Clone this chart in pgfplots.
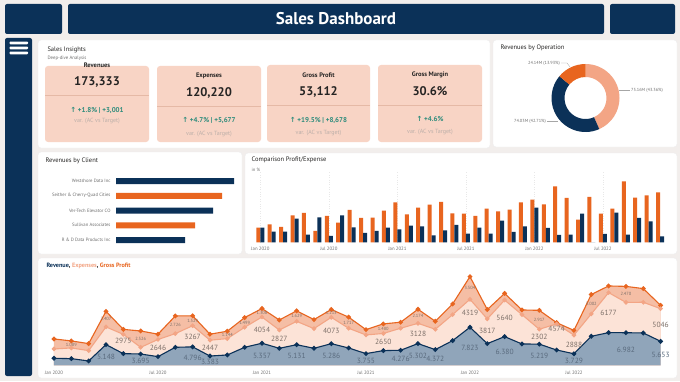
\documentclass[border=0pt]{standalone}
\usepackage{pgfplots}
\pgfplotsset{compat=1.18}
\usepackage{pgfplotstable}
\usepackage{fontspec}
\setmainfont{PT Sans}
\newfontfamily\dejavu{DejaVu Sans}
\newcommand\fs[1]{\fontsize{#1}{#1}\selectfont}
\newcommand\dlabel[5]{\node[font=\fs{#4}, text=#5, inner sep=0pt] at (axis cs:#1,#2) {#3};}
\definecolor{bg}{HTML}{F2EEEC}
\definecolor{navy}{HTML}{0B3158}
\definecolor{org}{HTML}{E8651F}
\definecolor{salm}{HTML}{F3A585}
\definecolor{peach}{HTML}{F8D4C5}
\definecolor{cardline}{HTML}{E5B9A6}
\definecolor{kgreen}{HTML}{2E8C7C}
\definecolor{kgrey}{HTML}{BCAFA9}
\definecolor{txt}{HTML}{252423}
\definecolor{lbl}{HTML}{6E6E6E}
\definecolor{navyfill}{HTML}{90A5BA}
\definecolor{midfill}{HTML}{FCE3D7}
\definecolor{topfill}{HTML}{F5BEA5}
\definecolor{navylbl}{HTML}{5A6B7E}
\definecolor{midlbl}{HTML}{7D7069}

% Revenue (N), Expenses band (E), Gross Profit band (G), monthly Jan 2020 - Dec 2022
\pgfplotstableread{
i N E G
0 3032 1442 1545
1 2980 1648 1089
2 2620 1597 1082
3 5148 2730 2407
4 3752 2975 772
5 3695 1030 2526
6 3289 2646 824
7 4731 2112 2726
8 4796 3267 1529
9 3383 2447 927
10 3546 2524 1144
11 4731 3090 1499
12 5357 4054 1308
13 4577 2827 1545
14 5131 3605 1629
15 4577 3039 1391
16 5286 4073 1213
17 4628 3039 1717
18 3755 2884 824
19 4216 2650 1480
20 4276 3399 927
21 5302 3128 2174
22 4372 3142 1236
23 5761 4017 1648
24 7823 4319 3504
25 5298 3817 1442
26 6380 5640 1030
27 5246 4532 721
28 5219 2302 2917
29 4314 4020 200
30 3729 2888 721
31 6431 3451 3002
32 6997 6177 1030
33 6982 4687 2470
34 6946 4738 2112
35 5653 5046 515
}\areadata

% Comparison Profit/Expense: O = orange, B = navy
\pgfplotstableread{
i O B
0 44 44
1 54 32
2 46 32
3 81 71
4 88 23
5 34 75
6 79 19
7 59 81
8 97 45
9 73 28
10 74 34
11 95 44
12 120 39
13 84 50
14 104 48
15 113 21
16 121 36
17 87 52
18 86 26
19 79 44
20 101 26
21 93 65
22 98 31
23 120 48
24 128 104
25 114 43
26 168 22
27 133 23
28 68 86
29 136 0
30 86 25
31 101 89
32 183 23
33 134 73
34 141 63
35 150 18
}\cmpdata

\begin{document}
\begin{tikzpicture}[x=1pt,y=1pt]
\fill[bg] (0,0) rectangle (680,381);
% header
\fill[navy, rounded corners=2pt] (5,347) rectangle (62,377);
\fill[navy, rounded corners=2pt] (68,347) rectangle (604,377);
\fill[navy, rounded corners=2pt] (610,347) rectangle (675,377);
\node[white, font=\fs{17}\bfseries] at (336,362) {Sales Dashboard};
% sidebar
\fill[navy, rounded corners=2pt] (5,5) rectangle (32,343);
\foreach \yy in {338,333,328} \fill[white, rounded corners=0.8pt] (9.5,\yy-1.3) rectangle (28,\yy+1.3);

% panels
\fill[white, rounded corners=3pt, draw=black!7, line width=0.4pt] (38,233) rectangle (490,341);
\fill[white, rounded corners=3pt, draw=black!7, line width=0.4pt] (493,234) rectangle (677,341);
\fill[white, rounded corners=3pt, draw=black!7, line width=0.4pt] (38,127) rectangle (242,229);
\fill[white, rounded corners=3pt, draw=black!7, line width=0.4pt] (245,127) rectangle (677,228);
\fill[white, rounded corners=3pt, draw=black!7, line width=0.4pt] (38,3) rectangle (677,123);

% Sales insights
\node[anchor=west, font=\fs{6.5}, text=txt] at (44,331) {Sales Insights};
\node[anchor=west, font=\fs{4.8}, text=lbl] at (44,322.5) {Deep-dive Analysis};

% card 1
\fill[peach, rounded corners=3pt] (45,239) rectangle (149,315);
\node[font=\fs{6.5}\bfseries, text=txt] at (97,316) {Revenues};
\node[font=\fs{12.5}\bfseries, text=txt] at (97,299) {173,333};
\draw[cardline, line width=0.5pt] (45,286) -- (149,286);
\node[font=\fs{7}\bfseries, text=kgreen] at (97,271) {{\dejavu\bfseries ↑} +1.8\% | +3,001};
\node[font=\fs{6}, text=kgrey] at (97,260) {var. (AC vs Target)};
% card 2
\fill[peach, rounded corners=3pt] (157,239) rectangle (261,315);
\node[font=\fs{6.5}\bfseries, text=txt] at (209,305) {Expenses};
\node[font=\fs{12.5}\bfseries, text=txt] at (209,288) {120,220};
\draw[cardline, line width=0.5pt] (157,275) -- (261,275);
\node[font=\fs{7}\bfseries, text=kgreen] at (209,261) {{\dejavu\bfseries ↑} +4.7\% | +5,677};
\node[font=\fs{6}, text=kgrey] at (209,247) {var. (AC vs Target)};
% card 3
\fill[peach, rounded corners=3pt] (267,239) rectangle (370,316);
\node[font=\fs{6.5}\bfseries, text=txt] at (318.5,306) {Gross Profit};
\node[font=\fs{12.5}\bfseries, text=txt] at (318.5,289) {53,112};
\draw[cardline, line width=0.5pt] (267,276) -- (370,276);
\node[font=\fs{7}\bfseries, text=kgreen] at (318.5,261) {{\dejavu\bfseries ↑} +19.5\% | +8,678};
\node[font=\fs{6}, text=kgrey] at (318.5,248) {var. (AC vs Target)};
% card 4
\fill[peach, rounded corners=3pt] (378,239) rectangle (482,316);
\node[font=\fs{6.5}\bfseries, text=txt] at (430,306) {Gross Margin};
\node[font=\fs{12.5}\bfseries, text=txt] at (430,290) {30.6\%};
\draw[cardline, line width=0.5pt] (378,276) -- (482,276);
\node[font=\fs{7}\bfseries, text=kgreen] at (430,262) {{\dejavu\bfseries ↑} +4.6\%};
\node[font=\fs{6}, text=kgrey] at (430,249) {var. (AC vs Target)};

% Revenues by operation (donut): 43.36 / 42.71 / 13.93 percent
\node[anchor=west, font=\fs{6.5}, text=txt] at (497,333.5) {Revenues by Operation};
\pgfmathsetmacro\aA{90-3.6*43.36}
\pgfmathsetmacro\aB{\aA-3.6*42.71}
\pgfmathsetmacro\aC{\aB-3.6*13.93}
\begin{scope}[shift={(585.5,283)}]
\fill[salm] (90:34) arc[start angle=90,end angle=\aA,radius=34] -- (\aA:21) arc[start angle=\aA,end angle=90,radius=21] -- cycle;
\fill[navy] (\aA:34) arc[start angle=\aA,end angle=\aB,radius=34] -- (\aB:21) arc[start angle=\aB,end angle=\aA,radius=21] -- cycle;
\fill[org] (\aB:34) arc[start angle=\aB,end angle=\aC,radius=34] -- (\aC:21) arc[start angle=\aC,end angle=\aB,radius=21] -- cycle;
\end{scope}
\draw[black!35, line width=0.3pt] (561,318) -- (567,318) -- (570,314);
\node[anchor=east, font=\fs{4.4}, text=lbl, inner sep=0.5pt] at (560.5,318) {24.14M (13.93\%)};
\draw[black!35, line width=0.3pt] (619,291) -- (630,291);
\node[anchor=west, font=\fs{4.4}, text=lbl, inner sep=0.5pt] at (630.5,291) {75.16M (43.36\%)};
\draw[black!35, line width=0.3pt] (547,260) -- (558,260);
\node[anchor=east, font=\fs{4.4}, text=lbl, inner sep=0.5pt] at (546.5,260) {74.03M (42.71\%)};

% Revenues by client
\node[anchor=west, font=\fs{6.5}, text=txt] at (42,220) {Revenues by Client};
\begin{axis}[at={(116pt,133.6pt)}, anchor=south west, scale only axis,
  width=120pt, height=73.75pt, xmin=0, xmax=120, ymin=-0.5, ymax=4.5,
  xbar, bar width=6pt, axis line style={draw=none}, xtick=\empty,
  ytick={0,1,2,3,4},
  yticklabels={R \& D Data Products Inc,Sullivan Associates,Ver-Tech Elevator CO,{Seither \& Cherry-Quad Cities},Westshore Data Inc},
  yticklabel style={font=\fs{4.7}, text=lbl, xshift=-2pt},
  major tick length=0pt]
\addplot[fill=navy, draw=none, bar shift=0pt] coordinates {(69,0) (97,2) (118,4)};
\addplot[fill=org, draw=none, bar shift=0pt] coordinates {(79,1) (106,3)};
\end{axis}

% Comparison profit / expense
\node[anchor=west, font=\fs{6.5}, text=txt] at (248,221) {Comparison Profit/Expense};
\node[anchor=west, font=\fs{4.6}, text=lbl] at (248,211.5) {in \%};
\begin{axis}[at={(252.3pt,138.7pt)}, anchor=south west, scale only axis,
  width=415.7pt, height=70pt, xmin=-0.7, xmax=35.7, ymin=0, ymax=210,
  ybar=0pt, bar width=4pt, axis line style={draw=none}, ytick=\empty,
  xtick={0,6,12,18,24,30},
  xticklabels={Jan 2020,Jul 2020,Jan 2021,Jul 2021,Jan 2022,Jul 2022},
  xticklabel style={font=\fs{4.8}, text=lbl, yshift=-1pt},
  xmajorgrids, grid style={dotted, line width=0.3pt, black!9},
  major tick length=0pt]
\addplot[fill=org, draw=none] table[x=i,y=O]{\cmpdata};
\addplot[fill=navy, draw=none] table[x=i,y=B]{\cmpdata};
\end{axis}

% Revenue, Expenses, Gross Profit
\node[anchor=west, font=\fs{6.2}\bfseries] at (43,115) {{\color{navy}Revenue}, {\color{salm}Expenses}, {\color{org}Gross Profit}};
\begin{axis}[at={(48.8pt,15.7pt)}, anchor=south west, scale only axis,
  width=617pt, height=95.5pt, xmin=-0.3, xmax=35.3, ymin=1950, ymax=16700,
  axis line style={draw=none}, ytick=\empty, clip mode=individual,
  xtick={0,6,12,18,24,30},
  xticklabels={Jan 2020,Jul 2020,Jan 2021,Jul 2021,Jan 2022,Jul 2022},
  xticklabel style={font=\fs{4.8}, text=lbl, yshift=-2.5pt},
  major tick length=0pt]
\addplot[draw=none, fill=topfill] table[x=i, y expr=\thisrow{N}+\thisrow{E}+\thisrow{G}]{\areadata} \closedcycle;
\addplot[draw=none, fill=midfill] table[x=i, y expr=\thisrow{N}+\thisrow{E}]{\areadata} \closedcycle;
\addplot[draw=none, fill=navyfill] table[x=i, y=N]{\areadata} \closedcycle;
\addplot[org, line width=1.1pt, mark=*, mark size=1.8pt, mark options={fill=org, draw=org}] table[x=i, y expr=\thisrow{N}+\thisrow{E}+\thisrow{G}]{\areadata};
\addplot[salm, line width=1.1pt, mark=*, mark size=1.7pt, mark options={fill=salm, draw=salm}] table[x=i, y expr=\thisrow{N}+\thisrow{E}]{\areadata};
\addplot[navy, line width=1.1pt, mark=*, mark size=1.8pt, mark options={fill=navy, draw=navy}] table[x=i, y=N]{\areadata};
% data labels: revenue
\foreach \xx/\yy/\tt in {3/3300/5.148,5/2620/3.695,8/3170/4.796,9/2520/3.383,12/3450/5.357,14/3340/5.131,16/3420/5.286,18/2650/3.755,20/2950/4.276,21/3420/5.302,22/2960/4.372,24/4680/7.823,26/3960/6.380,28/3380/5.219,30/2640/3.729,33/4260/6.982,35/3600/5.653}
  {\edef\tmp{\noexpand\dlabel{\xx}{\yy}{\tt}{7.5}{navylbl}}\tmp}
% expenses
\foreach \xx/\yy/\tt in {4/5800/2975,6/4612/2646,8/6380/3267,9/4650/2447,12/7384/4054,13/5991/2827,16/7323/4073,19/5541/2650,21/6866/3128,24/9983/4319,25/7207/3817,26/9200/5640,28/6370/2302,29/7560/4574,30/5173/2888,32/10086/6177,35/8176/5046}
  {\edef\tmp{\noexpand\dlabel{\xx}{\yy}{\tt}{7.5}{midlbl}}\tmp}
% gross profit
\foreach \xx/\yy/\tt in {1/5173/1.089,3/9082/2.407,5/5988/2.526,7/8206/2.726,8/8828/1.529,10/6642/1.144,11/8571/1.499,12/10065/1.308,14/9551/1.629,16/9966/1.213,17/8526/1.717,19/7606/1.480,21/9517/2.174,24/13894/3.504,28/8980/2.917,31/11383/3.002,33/12904/2.470}
  {\edef\tmp{\noexpand\dlabel{\xx}{\yy}{\tt}{4.5}{midlbl}}\tmp}
\end{axis}
\pgfresetboundingbox
\path[use as bounding box] (0,0) rectangle (680,381);
\end{tikzpicture}
\end{document}
